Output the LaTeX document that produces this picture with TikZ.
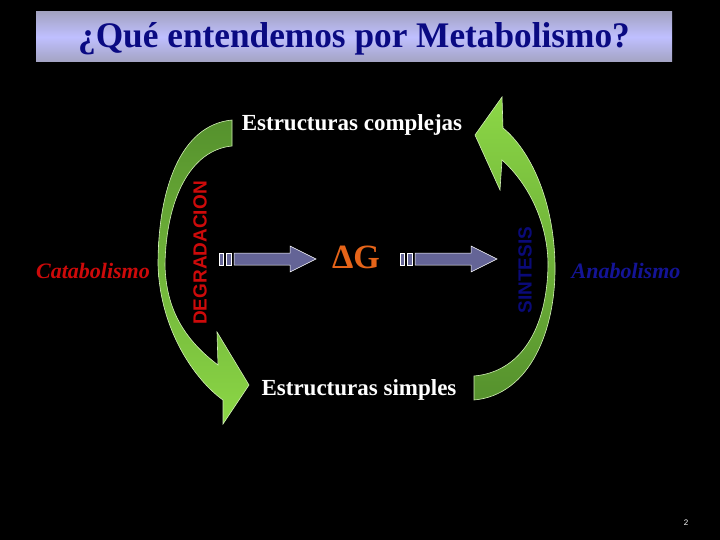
\documentclass[tikz,border=0pt]{standalone}
\usepackage{fontspec}
\setmainfont{Liberation Serif}
\setsansfont{Liberation Sans}
\definecolor{titleblue}{RGB}{10,10,130}
\definecolor{catred}{RGB}{205,10,10}
\definecolor{anablue}{RGB}{20,20,150}
\definecolor{sinblue}{RGB}{10,10,120}
\definecolor{dgorange}{RGB}{230,100,25}
\definecolor{lightgreen}{RGB}{140,215,70}
\definecolor{darkgreen}{RGB}{85,145,45}
\definecolor{blockpurple}{RGB}{100,100,150}
\tikzset{
  bandarrow/.style={draw=white!60!lightgreen, line width=0.6pt},
  blockarrow/.style={fill=blockpurple, draw=white, line width=0.5pt},
  bigtext/.style={font=\bfseries\fontsize{23}{26}\selectfont, text=white, inner sep=0pt}
}
\begin{document}
\begin{tikzpicture}[x=1pt,y=-1pt]
        \fill [black] (0,0) rectangle (720,540);
        \useasboundingbox (0,0) rectangle (720,540);
        % title bar
        \shade [top color=gray!80!blue!60, bottom color=gray!80!blue!60, middle color=blue!25!white] (36,12) rectangle (672,62);
        \node (title) [text=titleblue, font=\bfseries\fontsize{36}{38}\selectfont, xscale=0.98] at (354,39) {¿Qué entendemos por Metabolismo?};
        % curved arrows
        \shade [bandarrow, top color=darkgreen, bottom color=lightgreen]
          (232,120) .. controls (180,125) and (158,190) .. (158,265) .. controls (160,330) and (195,380) .. (223,400)
          -- (223,424) -- (249,385) -- (217,332) -- (218,365)
          .. controls (185,340) and (166,310) .. (165,265) .. controls (166,200) and (190,150) .. (232,146) -- cycle;
        \shade [bandarrow, top color=lightgreen, bottom color=darkgreen]
          (474,400) .. controls (530,395) and (556,330) .. (555,265) .. controls (554,200) and (530,150) .. (503,128)
          -- (502,97) -- (475,135) -- (500,190) -- (502,160)
          .. controls (530,185) and (548,225) .. (548,265) .. controls (547,330) and (520,372) .. (474,376) -- cycle;
        % labels
        \node (complex) [bigtext] at (352,125) {Estructuras complejas};
        \node (simple) [bigtext] at (359,390) {Estructuras simples};
        \node (cata) [text=catred, font=\bfseries\itshape\fontsize{22}{24}\selectfont] at (93,271) {Catabolismo};
        \node (ana) [text=anablue, font=\bfseries\itshape\fontsize{22}{24}\selectfont] at (626,271) {Anabolismo};
        \node (degr) [rotate=90, text=catred, font=\sffamily\bfseries\fontsize{19}{22}\selectfont] at (200,253) {DEGRADACION};
        \node (sint) [rotate=90, text=sinblue, font=\sffamily\bfseries\fontsize{19}{22}\selectfont] at (525,270) {SINTESIS};
        \node (dg) [text=dgorange, font=\bfseries\fontsize{34}{36}\selectfont] at (356,257) {ΔG};
        % block arrows
        \foreach \xo in {0,181} {
          \draw [blockarrow] (219+\xo,253) rectangle (223+\xo,265);
          \draw [blockarrow] (226+\xo,253) rectangle (231+\xo,265);
          \draw [blockarrow] (234+\xo,253) -- (290+\xo,253) -- (290+\xo,246) -- (316+\xo,259)
            -- (290+\xo,272) -- (290+\xo,265) -- (234+\xo,265) -- cycle;
        }
        \node (page) [text=white, font=\sffamily\fontsize{8}{9}\selectfont] at (686,523) {2};
\end{tikzpicture}
\end{document}
